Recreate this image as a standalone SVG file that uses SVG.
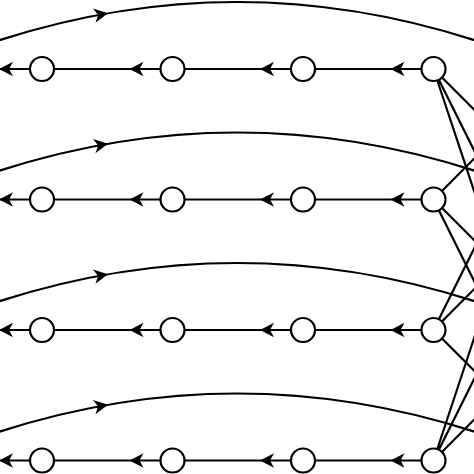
<svg xmlns="http://www.w3.org/2000/svg" xmlns:xlink="http://www.w3.org/1999/xlink" width="474" height="474" viewBox="0 0 474 474">
<style>
.e{fill:none;stroke:#000;stroke-width:2.2}
.n{fill:#fff;stroke:#000;stroke-width:2.2}
.a{fill:#000;stroke:none}
</style>
<defs>
<path id="ah" class="a" d="M0,0 L-14,-7.2 L-10,0 L-14,7.2 Z"/>
</defs>
<rect width="474" height="474" fill="#fff"/>
<g id="connectors">
<path class="e" d="M-40,53.9 Q237,-49.9 514,53.9"/>
<path class="e" d="M-40,184.4 Q237,80.6 514,184.4"/>
<path class="e" d="M-40,314.9 Q237,211.1 514,314.9"/>
<path class="e" d="M-40,445.4 Q237,341.6 514,445.4"/>
<use xlink:href="#ah" transform="translate(108,13.3) rotate(-9.9)"/>
<use xlink:href="#ah" transform="translate(108,143.8) rotate(-9.9)"/>
<use xlink:href="#ah" transform="translate(108,274.3) rotate(-9.9)"/>
<use xlink:href="#ah" transform="translate(108,404.8) rotate(-9.9)"/>
<path class="e" d="M-10,69H434M-10,199.5H434M-10,330H434M-10,460.5H434"/>
<use xlink:href="#ah" transform="translate(-1,69) rotate(180)"/>
<use xlink:href="#ah" transform="translate(129.5,69) rotate(180)"/>
<use xlink:href="#ah" transform="translate(260,69) rotate(180)"/>
<use xlink:href="#ah" transform="translate(390.5,69) rotate(180)"/>
<use xlink:href="#ah" transform="translate(-1,199.5) rotate(180)"/>
<use xlink:href="#ah" transform="translate(129.5,199.5) rotate(180)"/>
<use xlink:href="#ah" transform="translate(260,199.5) rotate(180)"/>
<use xlink:href="#ah" transform="translate(390.5,199.5) rotate(180)"/>
<use xlink:href="#ah" transform="translate(-1,330) rotate(180)"/>
<use xlink:href="#ah" transform="translate(129.5,330) rotate(180)"/>
<use xlink:href="#ah" transform="translate(260,330) rotate(180)"/>
<use xlink:href="#ah" transform="translate(390.5,330) rotate(180)"/>
<use xlink:href="#ah" transform="translate(-1,460.5) rotate(180)"/>
<use xlink:href="#ah" transform="translate(129.5,460.5) rotate(180)"/>
<use xlink:href="#ah" transform="translate(260,460.5) rotate(180)"/>
<use xlink:href="#ah" transform="translate(390.5,460.5) rotate(180)"/>
<path class="e" d="M433.5,69L498.5,134M433.5,69L498.5,199.5M433.5,69L498.5,264.5"/>
<path class="e" d="M433.5,199.5L498.5,134M433.5,199.5L498.5,264.5M433.5,199.5L498.5,330"/>
<path class="e" d="M433.5,330L498.5,199.5M433.5,330L498.5,264.5M433.5,330L498.5,395"/>
<path class="e" d="M433.5,460.5L498.5,264.5M433.5,460.5L498.5,330M433.5,460.5L498.5,395"/>
</g>
<g id="n11"><circle class="n" cx="42" cy="69" r="12"/></g>
<g id="n12"><circle class="n" cx="172.5" cy="69" r="12"/></g>
<g id="n13"><circle class="n" cx="303" cy="69" r="12"/></g>
<g id="n14"><circle class="n" cx="433.5" cy="69" r="12"/></g>
<g id="n21"><circle class="n" cx="42" cy="199.5" r="12"/></g>
<g id="n22"><circle class="n" cx="172.5" cy="199.5" r="12"/></g>
<g id="n23"><circle class="n" cx="303" cy="199.5" r="12"/></g>
<g id="n24"><circle class="n" cx="433.5" cy="199.5" r="12"/></g>
<g id="n31"><circle class="n" cx="42" cy="330" r="12"/></g>
<g id="n32"><circle class="n" cx="172.5" cy="330" r="12"/></g>
<g id="n33"><circle class="n" cx="303" cy="330" r="12"/></g>
<g id="n34"><circle class="n" cx="433.5" cy="330" r="12"/></g>
<g id="n41"><circle class="n" cx="42" cy="460.5" r="12"/></g>
<g id="n42"><circle class="n" cx="172.5" cy="460.5" r="12"/></g>
<g id="n43"><circle class="n" cx="303" cy="460.5" r="12"/></g>
<g id="n44"><circle class="n" cx="433.5" cy="460.5" r="12"/></g>
</svg>
